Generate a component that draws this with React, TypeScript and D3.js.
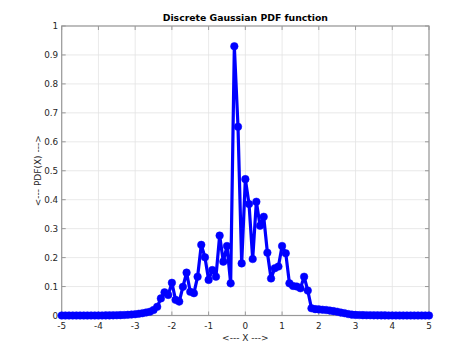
import React from "react";
import * as d3 from "d3";

const xValues = [
  -5.0, -4.9, -4.8, -4.7, -4.6, -4.5, -4.4, -4.3, -4.2, -4.1,
  -4.0, -3.9, -3.8, -3.7, -3.6, -3.5, -3.4, -3.3, -3.2, -3.1,
  -3.0, -2.9, -2.8, -2.7, -2.6, -2.5, -2.4, -2.3, -2.2, -2.1,
  -2.0, -1.9, -1.8, -1.7, -1.6, -1.5, -1.4, -1.3, -1.2, -1.1,
  -1.0, -0.9, -0.8, -0.7, -0.6, -0.5, -0.4, -0.3, -0.2, -0.1,
  0.0, 0.1, 0.2, 0.3, 0.4, 0.5, 0.6, 0.7, 0.8, 0.9,
  1.0, 1.1, 1.2, 1.3, 1.4, 1.5, 1.6, 1.7, 1.8, 1.9,
  2.0, 2.1, 2.2, 2.3, 2.4, 2.5, 2.6, 2.7, 2.8, 2.9,
  3.0, 3.1, 3.2, 3.3, 3.4, 3.5, 3.6, 3.7, 3.8, 3.9,
  4.0, 4.1, 4.2, 4.3, 4.4, 4.5, 4.6, 4.7, 4.8, 4.9,
  5.0,
];

const pdfValues = [
  0.0, 0.0, 0.0, 0.0, 0.0, 0.0, 0.0, 0.0, 0.0001, 0.0001,
  0.0001, 0.0002, 0.0003, 0.0004, 0.0006, 0.0009, 0.0012, 0.0017, 0.0024, 0.0033,
  0.0044, 0.006, 0.008, 0.0105, 0.013, 0.019, 0.03, 0.059, 0.08, 0.071,
  0.113, 0.054, 0.048, 0.099, 0.148, 0.082, 0.077, 0.134, 0.244, 0.201,
  0.123, 0.157, 0.134, 0.276, 0.186, 0.24, 0.111, 0.93, 0.652, 0.18,
  0.471, 0.385, 0.195, 0.393, 0.31, 0.341, 0.217, 0.128, 0.163, 0.169,
  0.24, 0.215, 0.111, 0.102, 0.1, 0.094, 0.134, 0.086, 0.025, 0.022,
  0.021, 0.02, 0.019, 0.017, 0.015, 0.013, 0.01, 0.008, 0.005, 0.003,
  0.002, 0.0015, 0.0012, 0.001, 0.0008, 0.0006, 0.0005, 0.0004, 0.0003, 0.0002,
  0.0002, 0.0001, 0.0001, 0.0001, 0.0, 0.0, 0.0, 0.0, 0.0, 0.0,
  0.0,
];

const xTicks = [-5, -4, -3, -2, -1, 0, 1, 2, 3, 4, 5];
const yTicks = [0, 0.1, 0.2, 0.3, 0.4, 0.5, 0.6, 0.7, 0.8, 0.9, 1];

const titleText = "Discrete Gaussian PDF function";
const xLabelText = "<--- X --->";
const yLabelText = "<--- PDF(X) --->";

const W = 474;
const H = 355;
const L = 61.7;
const R = 429;
const T = 26;
const B = 315.5;

export default function App() {
  const x = d3.scaleLinear().domain([-5, 5]).range([L, R]);
  const y = d3.scaleLinear().domain([0, 1]).range([B, T]);
  const pts = xValues.map((v, i) => [v, pdfValues[i]] as [number, number]);
  const line = d3
    .line<[number, number]>()
    .x((d) => x(d[0]))
    .y((d) => y(d[1]));
  const font = "'DejaVu Sans', 'Liberation Sans', sans-serif";
  const axisColor = "#999999";
  const textColor = "#262626";
  const tickLen = 4;

  return (
    <svg
      width={W}
      height={H}
      style={{ position: "absolute", left: 0, top: 0, display: "block", background: "#fff" }}
    >
      <rect x={0} y={0} width={W} height={H} fill="#ffffff" />
      {/* grid */}
      {xTicks.map((t) => (
        <line key={"gx" + t} x1={x(t)} x2={x(t)} y1={T} y2={B} stroke="#e3e3e3" strokeWidth={0.8} />
      ))}
      {yTicks.map((t) => (
        <line key={"gy" + t} x1={L} x2={R} y1={y(t)} y2={y(t)} stroke="#e3e3e3" strokeWidth={0.8} />
      ))}
      {/* ticks */}
      {xTicks.map((t) => (
        <g key={"tx" + t}>
          <line x1={x(t)} x2={x(t)} y1={B} y2={B - tickLen} stroke={axisColor} strokeWidth={1} />
          <line x1={x(t)} x2={x(t)} y1={T} y2={T + tickLen} stroke={axisColor} strokeWidth={1} />
          <text
            x={x(t)}
            y={B + 13.5}
            textAnchor="middle"
            fontFamily={font}
            fontSize={8.8}
            fill={textColor}
          >
            {t}
          </text>
        </g>
      ))}
      {yTicks.map((t) => (
        <g key={"ty" + t}>
          <line x1={L} x2={L + tickLen} y1={y(t)} y2={y(t)} stroke={axisColor} strokeWidth={1} />
          <line x1={R} x2={R - tickLen} y1={y(t)} y2={y(t)} stroke={axisColor} strokeWidth={1} />
          <text
            x={L - 3.5}
            y={y(t) + 3.2}
            textAnchor="end"
            fontFamily={font}
            fontSize={8.8}
            fill={textColor}
          >
            {d3.format("~g")(t)}
          </text>
        </g>
      ))}
      {/* box */}
      <rect x={L} y={T} width={R - L} height={B - T} fill="none" stroke={axisColor} strokeWidth={1.2} />
      {/* data */}
      <path d={line(pts) || ""} fill="none" stroke="#0000ff" strokeWidth={3.2} strokeLinejoin="round" />
      {pts.map((d, i) => (
        <circle key={"p" + i} cx={x(d[0])} cy={y(d[1])} r={3.8} fill="#0000ff" stroke="#0000ff" strokeWidth={0.5} />
      ))}
      {/* title and labels */}
      <text
        x={(L + R) / 2}
        y={21}
        textAnchor="middle"
        fontFamily={font}
        fontSize={9.3}
        fontWeight="bold"
        fill="#000"
      >
        {titleText}
      </text>
      <text
        x={(L + R) / 2}
        y={340.5}
        textAnchor="middle"
        fontFamily={font}
        fontSize={9}
        fill={textColor}
      >
        {xLabelText}
      </text>
      <text
        transform={`translate(40.5, ${(T + B) / 2}) rotate(-90)`}
        textAnchor="middle"
        fontFamily={font}
        fontSize={9}
        fill={textColor}
      >
        {yLabelText}
      </text>
    </svg>
  );
}
